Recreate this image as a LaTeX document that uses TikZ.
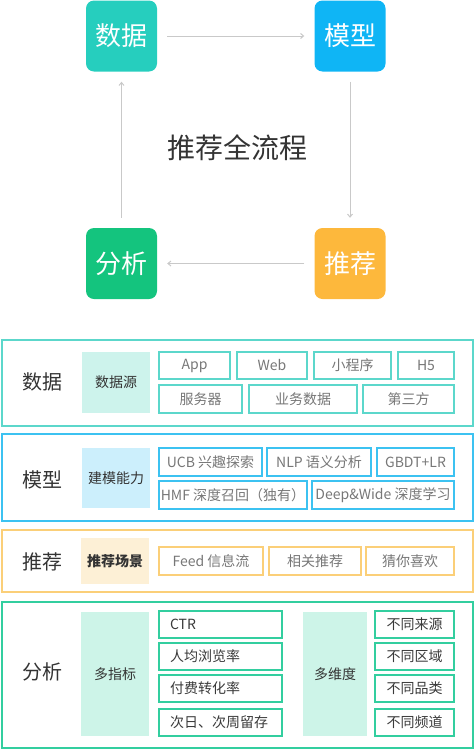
\documentclass[tikz,border=0pt]{standalone}
\usepackage{fontspec}
\setmainfont{Noto Sans CJK SC}
\usetikzlibrary{arrows.meta}
\definecolor{cdata}{HTML}{26CEBE}
\definecolor{cmodel}{HTML}{0FB5F5}
\definecolor{crec}{HTML}{FDB83C}
\definecolor{cana}{HTML}{14C47E}
\definecolor{bdata}{HTML}{5CD7CB}
\definecolor{bmodel}{HTML}{3CC2F1}
\definecolor{brec}{HTML}{FBCF78}
\definecolor{bana}{HTML}{33CE9F}
\definecolor{fdata}{HTML}{CDF3EC}
\definecolor{fmodel}{HTML}{CCEFFC}
\definecolor{frec}{HTML}{FDF0D6}
\definecolor{fana}{HTML}{CDF4E8}
\definecolor{arrowgray}{HTML}{C9C9C9}
\definecolor{titlegray}{HTML}{333333}
\definecolor{itemgray}{HTML}{777777}
\definecolor{itemdark}{HTML}{3A3A3A}
\tikzset{
  bigbox/.style={rounded corners=8pt, minimum width=71pt, minimum height=71pt, inner sep=0pt, text=white, font=\fontsize{26}{26}\selectfont},
  flow/.style={draw=arrowgray, line width=1pt, -{Straight Barb[length=3pt,width=5pt]}, shorten <=10pt, shorten >=10pt},
  section/.style={draw=#1, line width=2pt, inner sep=0pt},
  sectitle/.style={text=titlegray, font=\fontsize{20}{20}\selectfont},
  labelbox/.style={fill=#1, inner sep=0pt, text=titlegray, font=\fontsize{14}{14}\selectfont},
  itembox/.style={draw=#1, fill=white, line width=1.3pt, inner sep=0pt, minimum height=27pt, text=itemgray, font=\fontsize{14}{14}\selectfont},
  anaitem/.style={itembox=bana, text=itemdark},
}
\begin{document}
\begin{tikzpicture}[x=1pt,y=-1pt]
\useasboundingbox (0,0) rectangle (474,750);
% top cycle
\node[bigbox, fill=cdata] (d) at (121.5,36) {数据};
\node[bigbox, fill=cmodel] (m) at (350,36) {模型};
\node[bigbox, fill=crec] (r) at (350,263.5) {推荐};
\node[bigbox, fill=cana] (a) at (121.5,263.5) {分析};
\node[text=titlegray, font=\fontsize{28}{28}\selectfont] (center) at (237,148) {推荐全流程};
\draw[flow] (d) -- (m);
\draw[flow] (m) -- (r);
\draw[flow] (r) -- (a);
\draw[flow] (a) -- (d);

% section data
\node[section=bdata, minimum width=471pt, minimum height=86pt] (s1) at (237,383) {};
\node[sectitle] (t1) at (42,382) {数据};
\node[labelbox=fdata, minimum width=68pt, minimum height=61pt] (l1) at (116,382.5) {数据源};
\node[itembox=bdata, minimum width=71pt] (i11) at (194.5,365.5) {App};
\node[itembox=bdata, minimum width=70pt] (i12) at (272,365.5) {Web};
\node[itembox=bdata, minimum width=77pt] (i13) at (352.5,365.5) {小程序};
\node[itembox=bdata, minimum width=56pt] (i14) at (426,365.5) {H5};
\node[itembox=bdata, minimum width=83pt, minimum height=28pt] (i15) at (200.5,399) {服务器};
\node[itembox=bdata, minimum width=108pt, minimum height=28pt] (i16) at (303,399) {业务数据};
\node[itembox=bdata, minimum width=91pt, minimum height=28pt] (i17) at (408.5,399) {第三方};

% section model
\node[section=bmodel, minimum width=471pt, minimum height=87pt] (s2) at (237,477.5) {};
\node[sectitle] (t2) at (42,480) {模型};
\node[labelbox=fmodel, minimum width=68pt, minimum height=60pt] (l2) at (116,478) {建模能力};
\node[itembox=bmodel, minimum width=103pt, minimum height=28pt] (i21) at (210.5,462) {UCB 兴趣探索};
\node[itembox=bmodel, minimum width=104pt, minimum height=28pt] (i22) at (319,462) {NLP 语义分析};
\node[itembox=bmodel, minimum width=77pt, minimum height=28pt] (i23) at (415.5,462) {GBDT+LR};
\node[itembox=bmodel, minimum width=148pt, minimum height=28pt] (i24) at (233,495) {HMF 深度召回（独有）};
\node[itembox=bmodel, minimum width=142pt, minimum height=28pt] (i25) at (383,495) {Deep\&Wide 深度学习};

% section recommend
\node[section=brec, minimum width=471pt, minimum height=62pt] (s3) at (237,561) {};
\node[sectitle] (t3) at (42,562) {推荐};
\node[labelbox=frec, minimum width=68pt, minimum height=46pt, font=\fontsize{14}{14}\selectfont\bfseries] (l3) at (115,561) {推荐场景};
\node[itembox=brec, minimum width=104pt, minimum height=28pt] (i31) at (211,561) {Feed 信息流};
\node[itembox=brec, minimum width=92pt, minimum height=28pt] (i32) at (315,561) {相关推荐};
\node[itembox=brec, minimum width=88pt, minimum height=28pt] (i33) at (410,561) {猜你喜欢};

% section analysis
\node[section=bana, minimum width=471pt, minimum height=146pt] (s4) at (237,675) {};
\node[sectitle] (t4) at (42,672) {分析};
\node[labelbox=fana, minimum width=68pt, minimum height=124pt] (l4) at (115,674) {多指标};
\node[anaitem, text width=101pt, inner xsep=11pt, align=left] (i41) at (220.5,624.5) {CTR};
\node[anaitem, text width=101pt, inner xsep=11pt, align=left] (i42) at (220.5,656.5) {人均浏览率};
\node[anaitem, text width=101pt, inner xsep=11pt, align=left] (i43) at (220.5,688.5) {付费转化率};
\node[anaitem, text width=101pt, inner xsep=11pt, align=left] (i44) at (220.5,722.5) {次日、次周留存};
\node[labelbox=fana, minimum width=64pt, minimum height=124pt] (l5) at (335,674) {多维度};
\node[anaitem, minimum width=79pt] (i51) at (414.5,624.5) {不同来源};
\node[anaitem, minimum width=79pt] (i52) at (414.5,656.5) {不同区域};
\node[anaitem, minimum width=79pt] (i53) at (414.5,688.5) {不同品类};
\node[anaitem, minimum width=79pt] (i54) at (414.5,722.5) {不同频道};
\end{tikzpicture}
\end{document}
